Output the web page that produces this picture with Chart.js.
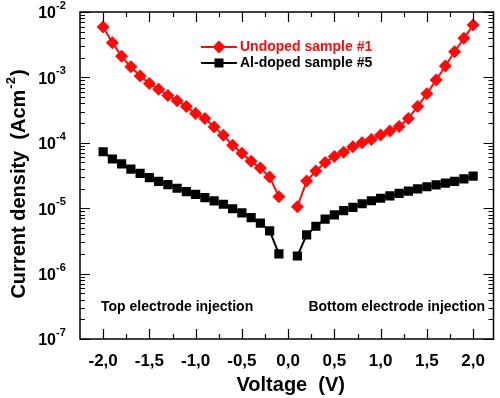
<!DOCTYPE html>
<html lang="en">
<head>
    <meta charset="UTF-8">
    <title>Current density vs voltage</title>
    <script src="https://cdn.jsdelivr.net/npm/chart.js"></script>
    <style>
        body { margin: 0; background: #fff; }
    </style>
</head>
<body>
    <canvas id="jvChart" width="500" height="398"></canvas>
    <script>
        // voltage steps (V); 0.0 has no measurement, so the curves break there
        const voltage = [-2.0, -1.9, -1.8, -1.7, -1.6, -1.5, -1.4, -1.3, -1.2, -1.1,
                         -1.0, -0.9, -0.8, -0.7, -0.6, -0.5, -0.4, -0.3, -0.2, -0.1,
                          0.0,
                          0.1, 0.2, 0.3, 0.4, 0.5, 0.6, 0.7, 0.8, 0.9, 1.0,
                          1.1, 1.2, 1.3, 1.4, 1.5, 1.6, 1.7, 1.8, 1.9, 2.0];

        // current density (A/cm^2)
        const undoped = [5.9e-3, 3.4e-3, 2.1e-3, 1.45e-3, 1.05e-3, 8.1e-4, 6.6e-4, 5.3e-4, 4.4e-4, 3.6e-4,
                         2.8e-4, 2.35e-4, 1.75e-4, 1.3e-4, 9.2e-5, 6.9e-5, 5.2e-5, 4.1e-5, 3.0e-5, 1.5e-5,
                         null,
                         1.05e-5, 2.6e-5, 3.7e-5, 5.0e-5, 6.2e-5, 7.2e-5, 8.7e-5, 1.0e-4, 1.12e-4, 1.32e-4,
                         1.52e-4, 1.77e-4, 2.35e-4, 3.6e-4, 5.6e-4, 9.1e-4, 1.49e-3, 2.47e-3, 3.96e-3, 6.3e-3];

        const alDoped = [7.3e-5, 5.65e-5, 4.75e-5, 3.95e-5, 3.4e-5, 2.93e-5, 2.57e-5, 2.29e-5, 2.02e-5, 1.79e-5,
                         1.63e-5, 1.45e-5, 1.29e-5, 1.15e-5, 9.8e-6, 8.5e-6, 7.2e-6, 5.9e-6, 4.5e-6, 2.0e-6,
                         null,
                         1.86e-6, 3.9e-6, 5.3e-6, 6.8e-6, 7.9e-6, 9.2e-6, 1.03e-5, 1.17e-5, 1.3e-5, 1.42e-5,
                         1.54e-5, 1.69e-5, 1.83e-5, 1.97e-5, 2.13e-5, 2.27e-5, 2.41e-5, 2.58e-5, 2.8e-5, 3.1e-5];

        const xTicks = [-2.0, -1.5, -1.0, -0.5, 0.0, 0.5, 1.0, 1.5, 2.0];
        const yTickExps = [-7, -6, -5, -4, -3, -2];

        const seriesNames = ['Undoped sample #1', 'Al-doped sample #5'];
        const RED = '#ff0a0a';
        const FONT = '"Liberation Sans", Arial, sans-serif';

        const toPoints = vals => voltage.map((v, i) => ({ x: v, y: vals[i] }));

        // draws the frame, inward ticks, tick labels, titles, legend and notes
        const decorations = {
            id: 'decorations',
            afterDraw(chart) {
                const ctx = chart.ctx;
                const a = chart.chartArea;
                const xs = chart.scales.x;
                const ys = chart.scales.y;
                ctx.save();
                ctx.strokeStyle = '#000';
                ctx.fillStyle = '#000';
                ctx.lineWidth = 1.5;
                ctx.strokeRect(a.left, a.top, a.right - a.left, a.bottom - a.top);

                ctx.lineWidth = 1.2;
                ctx.beginPath();
                // x ticks, bottom and top
                for (let v = -2.0; v <= 2.01; v += 0.25) {
                    const px = Math.round(xs.getPixelForValue(v)) + 0.5;
                    const major = Math.abs(v * 2 - Math.round(v * 2)) < 1e-6;
                    const len = major ? 10 : 5;
                    ctx.moveTo(px, a.bottom); ctx.lineTo(px, a.bottom - len);
                    ctx.moveTo(px, a.top); ctx.lineTo(px, a.top + len);
                }
                // y ticks, left and right
                for (let e = -7; e <= -2; e++) {
                    for (let k = 1; k <= 9; k++) {
                        if (e === -2 && k > 1) break;
                        const py = Math.round(ys.getPixelForValue(k * Math.pow(10, e))) + 0.5;
                        const len = k === 1 ? 10 : 5;
                        ctx.moveTo(a.left, py); ctx.lineTo(a.left + len, py);
                        ctx.moveTo(a.right, py); ctx.lineTo(a.right - len, py);
                    }
                }
                ctx.stroke();

                // x tick labels
                ctx.font = 'bold 17px ' + FONT;
                ctx.textAlign = 'center';
                ctx.textBaseline = 'middle';
                xTicks.forEach(v => {
                    ctx.fillText(v.toFixed(1).replace('.', ','), xs.getPixelForValue(v), 361);
                });

                // y tick labels 10^n
                yTickExps.forEach(e => {
                    const py = ys.getPixelForValue(Math.pow(10, e));
                    ctx.font = 'bold 16px ' + FONT;
                    ctx.textAlign = 'right';
                    ctx.fillText('10', 56, py + 2);
                    ctx.font = 'bold 11px ' + FONT;
                    ctx.textAlign = 'left';
                    ctx.fillText(String(e), 56, py - 6);
                });

                // axis titles
                ctx.font = 'bold 20px ' + FONT;
                ctx.textAlign = 'center';
                ctx.fillText('Voltage  (V)', (a.left + a.right) / 2 + 4, 385);

                ctx.save();
                ctx.translate(19, 184);
                ctx.rotate(-Math.PI / 2);
                const main = 'Current density  (Acm';
                ctx.font = 'bold 20px ' + FONT;
                const wMain = ctx.measureText(main).width;
                ctx.font = 'bold 13px ' + FONT;
                const wSup = ctx.measureText('-2').width;
                ctx.font = 'bold 20px ' + FONT;
                const wEnd = ctx.measureText(')').width;
                let tx = -(wMain + wSup + wEnd + 2) / 2;
                ctx.textAlign = 'left';
                ctx.fillText(main, tx, 0);
                tx += wMain + 1;
                ctx.font = 'bold 13px ' + FONT;
                ctx.fillText('-2', tx, -8);
                tx += wSup + 1;
                ctx.font = 'bold 20px ' + FONT;
                ctx.fillText(')', tx, 0);
                ctx.restore();

                // legend
                const legend = [
                    { y: 47, color: RED, shape: 'diamond', text: seriesNames[0] },
                    { y: 63, color: '#000', shape: 'square', text: seriesNames[1] }
                ];
                legend.forEach(item => {
                    ctx.strokeStyle = item.color;
                    ctx.fillStyle = item.color;
                    ctx.lineWidth = 2;
                    ctx.beginPath();
                    ctx.moveTo(201, item.y); ctx.lineTo(237, item.y);
                    ctx.stroke();
                    ctx.beginPath();
                    if (item.shape === 'diamond') {
                        ctx.moveTo(219, item.y - 6.5); ctx.lineTo(225.5, item.y);
                        ctx.lineTo(219, item.y + 6.5); ctx.lineTo(212.5, item.y);
                        ctx.closePath();
                    } else {
                        ctx.rect(214.5, item.y - 4.5, 9, 9);
                    }
                    ctx.fill();
                    ctx.font = 'bold 14px ' + FONT;
                    ctx.textAlign = 'left';
                    ctx.fillText(item.text, 240, item.y);
                });

                // notes
                ctx.fillStyle = '#000';
                ctx.font = 'bold 14px ' + FONT;
                ctx.textAlign = 'left';
                ctx.fillText('Top electrode injection', 101, 307);
                ctx.textAlign = 'right';
                ctx.fillText('Bottom electrode injection', 485, 307);
                ctx.restore();
            }
        };

        new Chart(document.getElementById('jvChart'), {
            type: 'line',
            data: {
                datasets: [{
                    label: seriesNames[0],
                    data: toPoints(undoped),
                    borderColor: RED,
                    backgroundColor: RED,
                    borderWidth: 2,
                    pointStyle: 'rectRot',
                    pointRadius: 6.5,
                    pointBorderWidth: 0,
                    spanGaps: false
                }, {
                    label: seriesNames[1],
                    data: toPoints(alDoped),
                    borderColor: '#000',
                    backgroundColor: '#000',
                    borderWidth: 2,
                    pointStyle: 'rect',
                    pointRadius: 6.5,
                    pointBorderWidth: 0,
                    spanGaps: false
                }]
            },
            options: {
                responsive: false,
                animation: false,
                devicePixelRatio: 1,
                layout: { padding: { top: 12, right: 4, left: 0, bottom: 0 } },
                plugins: {
                    legend: { display: false },
                    tooltip: { enabled: false }
                },
                scales: {
                    x: {
                        type: 'linear',
                        min: -2.25,
                        max: 2.22,
                        ticks: { display: false },
                        grid: { display: false },
                        border: { display: false },
                        afterFit: s => { s.height = 59; }
                    },
                    y: {
                        type: 'logarithmic',
                        min: 1e-7,
                        max: 1e-2,
                        ticks: { display: false },
                        grid: { display: false },
                        border: { display: false },
                        afterFit: s => { s.width = 80; }
                    }
                }
            },
            plugins: [decorations]
        });
    </script>
</body>
</html>
